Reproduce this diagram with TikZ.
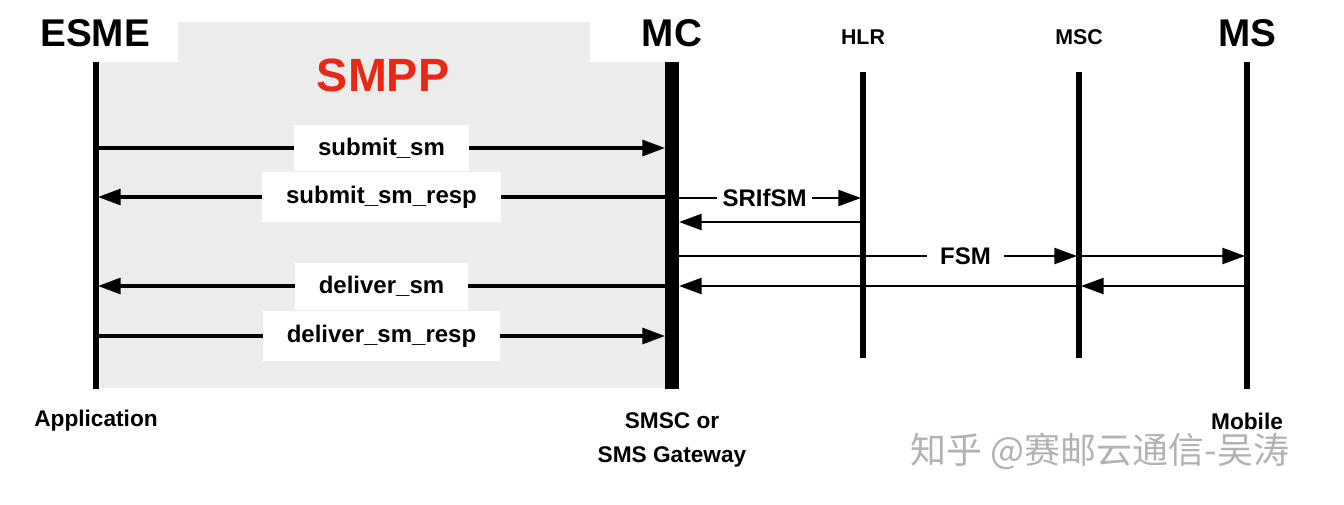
\documentclass[tikz,border=0pt]{standalone}
\usepackage{fontspec}
\setmainfont{Liberation Sans}
\newfontfamily\cjk{Noto Sans CJK SC}
\usetikzlibrary{arrows.meta}
\begin{document}
\begin{tikzpicture}[x=0.75pt,y=-0.75pt,
  big/.style={font=\bfseries\fontsize{29}{32}\selectfont},
  small/.style={font=\bfseries\fontsize{17}{20}\selectfont},
  msg/.style={line width=2.3pt,-{Triangle[length=17pt,width=12pt]}},
  box/.style={fill=white,font=\bfseries\fontsize{18}{21}\selectfont,inner xsep=18pt,inner ysep=10pt}]
\useasboundingbox (0,0) rectangle (1344,504);
\fill[white] (0,0) rectangle (1344,504);
% gray area
\fill[gray!15] (100,22) rectangle (665,388);
\fill[white] (28,0) rectangle (178,62);
\fill[white] (590,0) rectangle (665,62);
% lifelines
\draw[line width=4.5pt] (96,62) -- (96,389);
\draw[line width=10pt] (672,62) -- (672,389);
\draw[line width=4pt] (863,72) -- (863,358);
\draw[line width=4pt] (1079,72) -- (1079,358);
\draw[line width=4.5pt] (1247,62) -- (1247,389);
% headers
\node[big] (esme) at (95,33) {ESME};
\node[big] (mc) at (672,33) {MC};
\node[small,font=\bfseries\fontsize{16}{19}\selectfont] (hlr) at (863,37) {HLR};
\node[small,font=\bfseries\fontsize{16}{19}\selectfont] (msc) at (1079,37) {MSC};
\node[big] (ms) at (1247,33) {MS};
\node[font=\bfseries\fontsize{35}{38}\selectfont,text={rgb,255:red,230;green,40;blue,20}] (smpp) at (383,75) {SMPP};
% coordinates
\coordinate (e1) at (98,148); \coordinate (m1) at (665,148);
\coordinate (e2) at (98,197); \coordinate (m2) at (665,197);
\coordinate (e3) at (98,286); \coordinate (m3) at (665,286);
\coordinate (e4) at (98,336); \coordinate (m4) at (665,336);
\coordinate (m5) at (679,198); \coordinate (h5) at (861,198);
\coordinate (h6) at (861,222); \coordinate (m6) at (679,222);
\coordinate (m7) at (679,256); \coordinate (s7) at (1077,256);
\coordinate (s8) at (1081,256); \coordinate (p8) at (1245,256);
\coordinate (p9) at (1245,286); \coordinate (s9) at (1081,286);
\coordinate (s10) at (1077,286); \coordinate (m10) at (679,286);
% messages
\draw[msg] (e1) -- node[box] (l1) {submit\_sm} (m1);
\draw[msg] (m2) -- node[box] (l2) {submit\_sm\_resp} (e2);
\draw[msg] (m3) -- node[box] (l3) {deliver\_sm} (e3);
\draw[msg] (e4) -- node[box] (l4) {deliver\_sm\_resp} (m4);
\draw[msg,line width=1.8pt] (m5) -- node[box,inner xsep=4pt,inner ysep=3pt,pos=0.47] (l5) {SRIfSM} (h5);
\draw[msg,line width=1.8pt] (h6) -- (m6);
\draw[msg,line width=1.8pt] (m7) -- node[box,inner xsep=10pt,inner ysep=3pt,pos=0.72] (l7) {FSM} (s7);
\draw[msg,line width=1.8pt] (s8) -- (p8);
\draw[msg,line width=1.8pt] (p9) -- (s9);
\draw[msg,line width=1.8pt] (s10) -- (m10);
% bottom labels
\node[small] (app) at (96,421) {Application};
\node[small] (smsc1) at (672,421) {SMSC or};
\node[small] (smsc2) at (672,457) {SMS Gateway};
\node[small] (mob) at (1247,421) {Mobile};
\node[font=\cjk\fontsize{27}{30}\selectfont,text=gray!60] (wm) at (1100,451) {知乎 @赛邮云通信-吴涛};
\end{tikzpicture}
\end{document}
